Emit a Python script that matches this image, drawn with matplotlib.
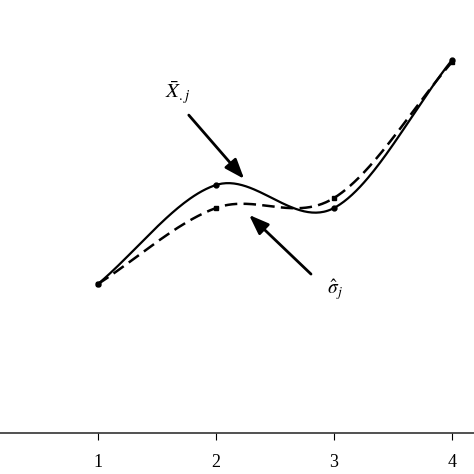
import numpy as np
import matplotlib
matplotlib.use('Agg')
import matplotlib.pyplot as plt

# data
x_pts = [1, 2, 3, 4]
mean_vals = [1.49, 2.48, 2.25, 3.73]    # solid curve, X bar .j
sigma_vals = [1.49, 2.25, 2.35, 3.71]   # dashed curve, sigma hat j
tick_labels = ['1', '2', '3', '4']


def smooth(xs, ys, n=60):
    # catmull-rom curve through the points
    xs = np.asarray(xs, float)
    ys = np.asarray(ys, float)
    m = np.gradient(ys, xs)
    out_x, out_y = [], []
    for i in range(len(xs) - 1):
        h = xs[i + 1] - xs[i]
        t = np.linspace(0, 1, n)
        h00 = 2 * t**3 - 3 * t**2 + 1
        h10 = t**3 - 2 * t**2 + t
        h01 = -2 * t**3 + 3 * t**2
        h11 = t**3 - t**2
        out_x.append(xs[i] + t * h)
        out_y.append(h00 * ys[i] + h10 * h * m[i] + h01 * ys[i + 1] + h11 * h * m[i + 1])
    return np.concatenate(out_x), np.concatenate(out_y)


plt.rcParams['mathtext.fontset'] = 'stix'

fig = plt.figure(figsize=(4.74, 4.74), dpi=100)
ax = fig.add_axes([0, 41 / 474, 1, 433 / 474])

xs, ys = smooth(x_pts, mean_vals)
ax.plot(xs, ys, color='black', lw=1.6)
ax.plot(x_pts, mean_vals, 'o', color='black', ms=3.5)

xs, ys = smooth(x_pts, sigma_vals)
ax.plot(xs, ys, color='black', lw=1.8, dashes=(5, 2.5))
ax.plot(x_pts, sigma_vals, 's', color='black', ms=3.5)

arrow = dict(arrowstyle='-|>,head_length=1.2,head_width=0.45', color='black', lw=2)
ax.annotate('', xy=(2.254, 2.52), xytext=(1.754, 3.20), arrowprops=arrow)
ax.annotate('', xy=(2.263, 2.20), xytext=(2.822, 1.57), arrowprops=arrow)
ax.text(1.68, 3.40, r'$\bar{X}_{.j}$', fontsize=15, ha='center', va='center')
ax.text(3.01, 1.43, r'$\hat{\sigma}_{j}$', fontsize=14, ha='center', va='center')

ax.set_xlim(1 - 98 / 118, 4 + 22 / 118)
ax.set_ylim(0, 4.33)
ax.set_xticks(x_pts)
ax.set_xticklabels(tick_labels, fontfamily='Liberation Serif', fontsize=13)
ax.tick_params(axis='x', direction='out', length=5, width=0.8, pad=10, colors='black')
ax.set_yticks([])
for s in ['top', 'left', 'right']:
    ax.spines[s].set_visible(False)
ax.spines['bottom'].set_linewidth(1.2)
ax.spines['bottom'].set_color('#333333')

fig.savefig('out.png', dpi=100)
